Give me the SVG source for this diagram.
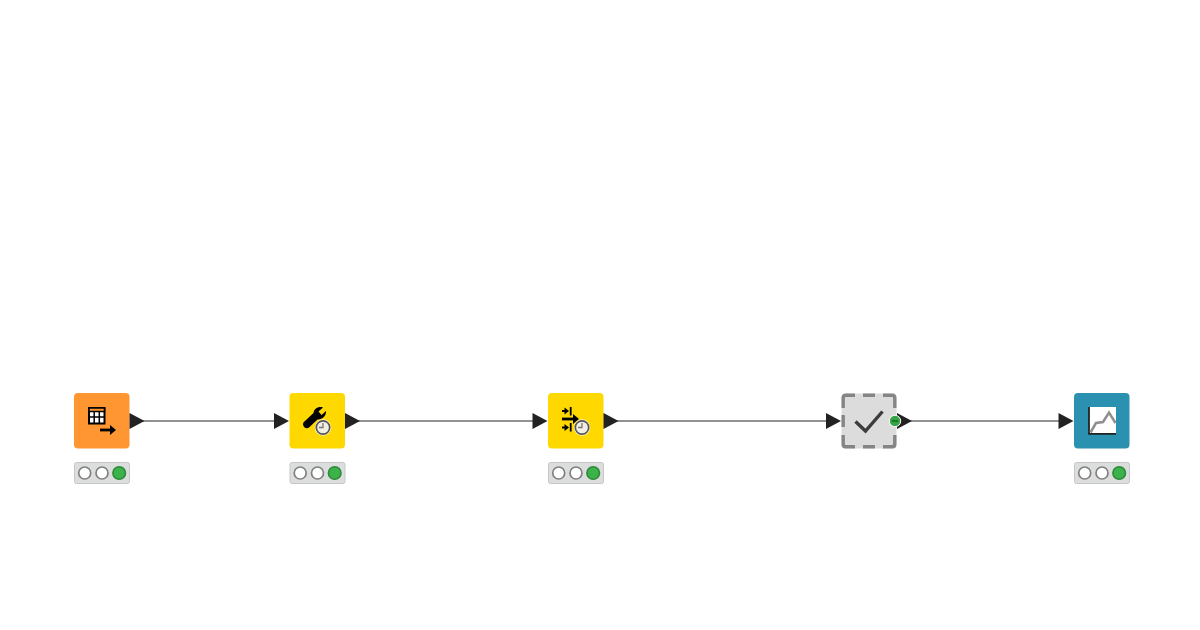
<svg xmlns="http://www.w3.org/2000/svg" width="1200" height="630" viewBox="0 0 1200 630">
<defs>
<style>
.port{fill:#222}
.wire{stroke:#6e6e6e;stroke-width:1.5;fill:none}
.tray{fill:#dcdddd;stroke:#c6c8c8;stroke-width:1}
.off{fill:#fff;stroke:#808080;stroke-width:1.7}
.on{fill:#3cb24a;stroke:#2f8a3c;stroke-width:1.6}
.blk{fill:#000}
.ln{stroke:#000;fill:none}
.ico{filter:url(#soft)}
</style>
<filter id="soft" x="-10%" y="-10%" width="120%" height="120%"><feGaussianBlur stdDeviation="0.35"/></filter>
<polygon id="tri" class="port" points="0,-8 15,0 0,8"/>
<g id="lights">
<rect class="tray" x="0.5" y="0.5" width="55" height="21" rx="2"/>
<circle class="off" cx="10.700" cy="11" r="6"/>
<circle class="off" cx="28" cy="11" r="6"/>
<circle class="on" cx="45.200" cy="11" r="6.300"/>
</g>
<g id="clock">
<circle cx="0" cy="0" r="8.200" fill="#fbf6df"/>
<circle cx="0" cy="0" r="6.700" fill="#f1eee4" stroke="#555" stroke-width="1.700"/>
<path d="M0,-4.500V0H-4" stroke="#777" stroke-width="1.300" fill="none"/>
</g>
</defs>
<rect width="1200" height="630" fill="#fff"/>
<g id="connectors">
<line class="wire" x1="140" y1="421" x2="276" y2="421"/>
<line class="wire" x1="356" y1="421" x2="534" y2="421"/>
<line class="wire" x1="614" y1="421" x2="827" y2="421"/>
<line class="wire" x1="907" y1="421" x2="1060" y2="421"/>
</g>
<g id="node1">
<rect x="74" y="393" width="55.500" height="55.500" rx="4" fill="#ff9632"/>
<g class="ico">
<rect x="89" y="408" width="15.500" height="15.500" fill="#fff" stroke="#000" stroke-width="2"/>
<rect x="89" y="408" width="15.500" height="3.500" fill="#ff9632" stroke="#000" stroke-width="1.500"/>
<path class="ln" stroke-width="1.500" d="M89,417H104.500M94.200,411.500V423.500M99.300,411.500V423.500"/>
<path class="ln" stroke-width="2.800" d="M100,430H111"/>
<polygon class="blk" points="110,425 116,430 110,435"/>
</g>
<use href="#tri" x="129.500" y="421"/>
<use href="#lights" x="74" y="462"/>
</g>
<g id="node2">
<rect x="289.500" y="393" width="55.500" height="55.500" rx="4" fill="#ffd800"/>
<g class="ico">
<path d="M303,424.500C303,422.500 304,421.500 305,421L313.500,413C314,409 318,406 323,407.500L318.500,411.500L321.500,415L326,411C326.500,416 322,420 317.500,419.500L309,427.500C307,429 303.500,428 303,424.500Z" class="blk"/>
<use href="#clock" x="323" y="427.500"/>
</g>
<use href="#tri" x="274" y="421"/>
<use href="#tri" x="345" y="421"/>
<use href="#lights" x="289.500" y="462"/>
</g>
<g id="node3">
<rect x="548" y="393" width="55.500" height="55.500" rx="4" fill="#ffd800"/>
<g class="ico">
<path class="ln" stroke-width="1.800" d="M562,411H566M562,427.500H566M570.700,407V415.500M570.700,423V431.500"/>
<polygon class="blk" points="564.500,407.500 569,411 564.500,414.500"/>
<polygon class="blk" points="564.500,424 569,427.500 564.500,431"/>
<path class="ln" stroke-width="2.800" d="M562,419H574"/>
<polygon class="blk" points="573,414 579,419 573,424"/>
<use href="#clock" x="582" y="427.500"/>
</g>
<use href="#tri" x="532.500" y="421"/>
<use href="#tri" x="603.500" y="421"/>
<use href="#lights" x="548" y="462"/>
</g>
<g id="node4">
<use href="#tri" x="826" y="421"/>
<use href="#tri" x="897" y="421"/>
<rect x="841.500" y="393.500" width="55" height="55" rx="3.500" fill="#dcdcdd"/>
<path d="M855,395.200H846Q843.200,395.200 843.200,398V408M863,395.200H875M883,395.200H892Q894.800,395.200 894.800,398V408M843.200,415V427M894.800,415V427M843.200,435V444Q843.200,446.800 846,446.800H855M863,446.800H875M883,446.800H892Q894.800,446.800 894.800,444V435" fill="none" stroke="#858585" stroke-width="3.400"/>
<path d="M855.500,421.500L865.500,431L882.500,411.500" fill="none" stroke="#3d3d3d" stroke-width="3.400"/>
<circle cx="895" cy="421" r="5.700" fill="#34a544" stroke="#fff" stroke-width="1"/>
<path d="M892,421H898" stroke="#0d5a1c" stroke-width="1.200"/>
</g>
<g id="node5">
<rect x="1074" y="393" width="55.500" height="55.500" rx="4" fill="#2a92b0"/>
<g class="ico">
<rect x="1089" y="407" width="27" height="26.500" fill="#fff"/>
<path d="M1089,407V433.800H1116" fill="none" stroke="#222" stroke-width="1.800"/>
<path d="M1090.500,432.500L1096,423L1103,422L1109,412.500L1115.500,423" fill="none" stroke="#8f8f8f" stroke-width="2.500"/>
</g>
<use href="#tri" x="1058.500" y="421"/>
<use href="#lights" x="1074" y="462"/>
</g>
</svg>
